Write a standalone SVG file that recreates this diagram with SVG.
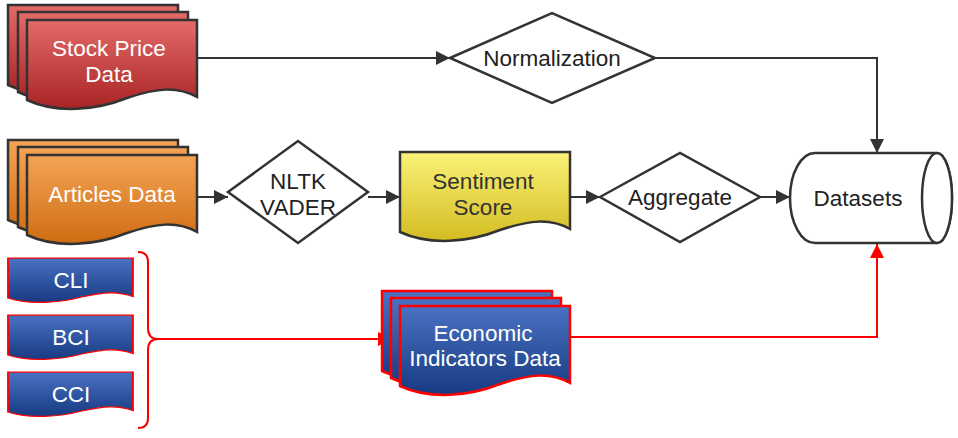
<svg xmlns="http://www.w3.org/2000/svg" xmlns:xlink="http://www.w3.org/1999/xlink" width="958" height="438" viewBox="0 0 958 438">
<style>
text{font-family:"Liberation Sans",Arial,sans-serif;font-size:22.5px;text-anchor:middle}
.w{fill:#fff}.d{fill:#222}
.dk{stroke:#333;stroke-width:2.5;vector-effect:non-scaling-stroke}
.rd{stroke:#f00;stroke-width:2.5;vector-effect:non-scaling-stroke}
.dia{fill:#fff;stroke:#333;stroke-width:2.5}
.ln{fill:none;stroke:#333;stroke-width:2}
.lr{fill:none;stroke:#f00;stroke-width:2}
</style>
<defs>
<linearGradient id="gR" x1="0" y1="0" x2="0" y2="1"><stop offset="0" stop-color="#e46a6a"/><stop offset="1" stop-color="#a82424"/></linearGradient>
<linearGradient id="gO" x1="0" y1="0" x2="0" y2="1"><stop offset="0" stop-color="#f4a455"/><stop offset="1" stop-color="#cf6c12"/></linearGradient>
<linearGradient id="gY" x1="0" y1="0" x2="0" y2="1"><stop offset="0" stop-color="#faf278"/><stop offset="1" stop-color="#d4bc22"/></linearGradient>
<linearGradient id="gB" x1="0" y1="0" x2="0" y2="1"><stop offset="0" stop-color="#4a72c2"/><stop offset="1" stop-color="#173a82"/></linearGradient>
<path id="doc" d="M0,0 H170 V77 C150,66 130,68 100,78 C70,90 30,94 0,80 Z"/>
<marker id="aK" viewBox="0 0 10 10" refX="10" refY="5" markerWidth="7" markerHeight="7" orient="auto"><path d="M0,0 L10,5 L0,10 Z" fill="#333"/></marker>
<marker id="aR" viewBox="0 0 10 10" refX="10" refY="5" markerWidth="7" markerHeight="7" orient="auto"><path d="M0,0 L10,5 L0,10 Z" fill="#f00"/></marker>
</defs>
<g id="connectors">
<path class="ln" d="M197,58 H450" marker-end="url(#aK)"/>
<path class="ln" d="M655,58 H877 V153" marker-end="url(#aK)"/>
<path class="ln" d="M197,197 H228" marker-end="url(#aK)"/>
<path class="ln" d="M368,197 H400" marker-end="url(#aK)"/>
<path class="ln" d="M570,197 H600" marker-end="url(#aK)"/>
<path class="ln" d="M760,197 H790" marker-end="url(#aK)"/>
<path class="lr" d="M570,337 H877 V244" marker-end="url(#aR)"/>
<path class="lr" d="M138,252 Q148,252 148,262 V328 Q148,339 158,339 Q148,339 148,350 V418 Q148,428 138,428"/>
<path class="lr" d="M158,339 H392" marker-end="url(#aR)"/>
</g>
<g id="stock">
<use xlink:href="#doc" class="dk" fill="url(#gR)" transform="translate(8,5)"/>
<use xlink:href="#doc" class="dk" fill="url(#gR)" transform="translate(18,12)"/>
<use xlink:href="#doc" class="dk" fill="url(#gR)" transform="translate(27,20)"/>
<text class="w" x="109" y="56">Stock Price</text><text class="w" x="109" y="82">Data</text>
</g>
<g id="articles">
<use xlink:href="#doc" class="dk" fill="url(#gO)" transform="translate(8,140)"/>
<use xlink:href="#doc" class="dk" fill="url(#gO)" transform="translate(18,147)"/>
<use xlink:href="#doc" class="dk" fill="url(#gO)" transform="translate(27,155)"/>
<text class="w" x="112" y="202">Articles Data</text>
</g>
<g id="normalization"><path class="dia" d="M450,58 L552,13 L655,58 L552,103 Z"/><text class="d" x="552" y="66">Normalization</text></g>
<g id="vader"><path class="dia" d="M228,192 L298,141 L368,192 L298,243 Z"/><text class="d" x="298" y="189">NLTK</text><text class="d" x="298" y="215">VADER</text></g>
<g id="sentiment"><use xlink:href="#doc" class="dk" fill="url(#gY)" transform="translate(400,152)"/><text x="483" y="189" fill="#333">Sentiment</text><text x="483" y="215" fill="#333">Score</text></g>
<g id="aggregate"><path class="dia" d="M600,197 L680,153 L760,197 L680,242 Z"/><text class="d" x="680" y="205">Aggregate</text></g>
<g id="datasets">
<path d="M815,153 H937 A15,45 0 0 1 937,243 H815 A25,45 0 0 1 815,153 Z" fill="#fff" stroke="#333" stroke-width="2.5"/>
<ellipse cx="937" cy="198" rx="15" ry="45" fill="#fff" stroke="#333" stroke-width="2.5"/>
<text class="d" x="858" y="206">Datasets</text>
</g>
<g id="cli"><use xlink:href="#doc" class="rd" fill="url(#gB)" transform="translate(8,258) scale(0.735,0.5)"/><text class="w" x="71" y="288">CLI</text></g>
<g id="bci"><use xlink:href="#doc" class="rd" fill="url(#gB)" transform="translate(8,315) scale(0.735,0.5)"/><text class="w" x="71" y="345">BCI</text></g>
<g id="cci"><use xlink:href="#doc" class="rd" fill="url(#gB)" transform="translate(8,372) scale(0.735,0.5)"/><text class="w" x="71" y="402">CCI</text></g>
<g id="economic">
<use xlink:href="#doc" class="rd" fill="url(#gB)" transform="translate(382,291)"/>
<use xlink:href="#doc" class="rd" fill="url(#gB)" transform="translate(391,298)"/>
<use xlink:href="#doc" class="rd" fill="url(#gB)" transform="translate(400,306)"/>
<text class="w" x="483" y="341">Economic</text><text class="w" x="485" y="366">Indicators Data</text>
</g>
</svg>
